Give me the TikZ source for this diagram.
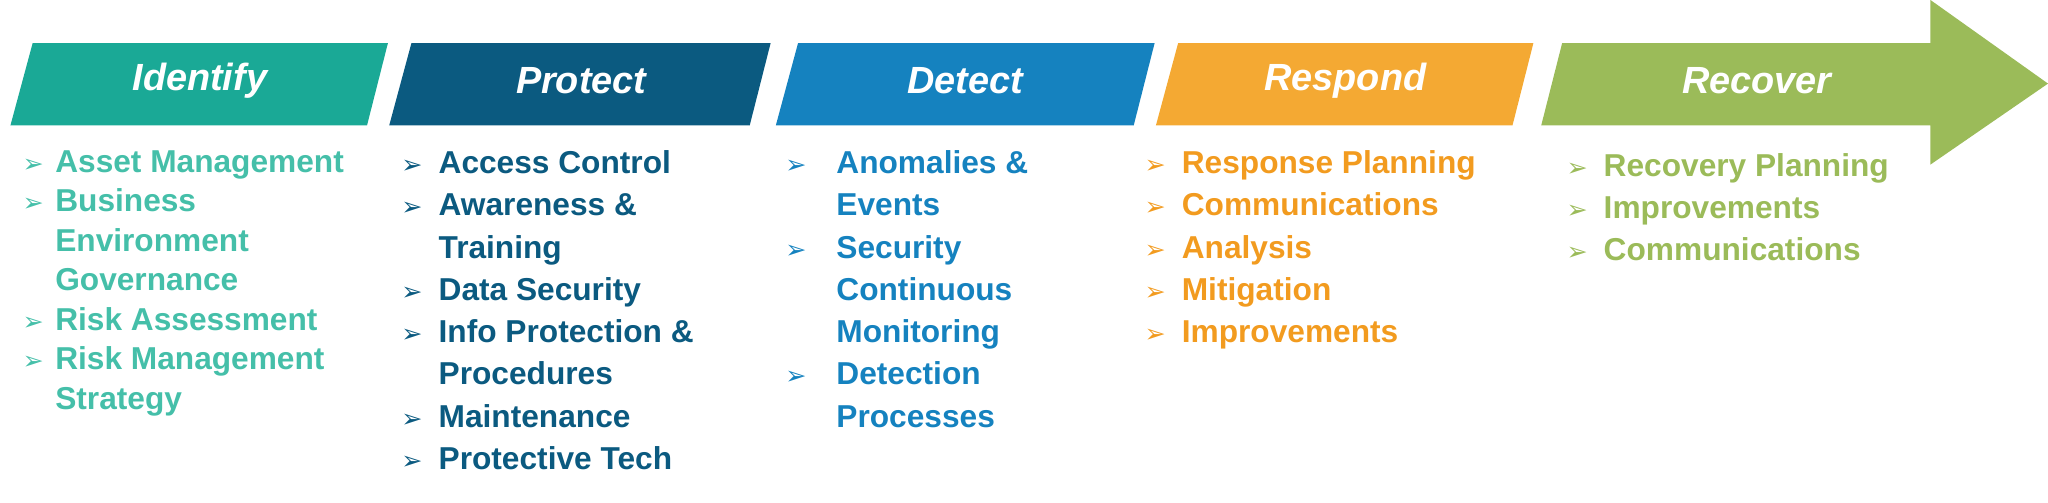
\documentclass[tikz,border=0pt]{standalone}
\usepackage{fontspec}
\setmainfont{Liberation Sans}
\newfontfamily\dv{DejaVu Sans}
\definecolor{cid}{HTML}{1AA996}\definecolor{tid}{HTML}{45BFA9}
\definecolor{cpr}{HTML}{0B5A80}
\definecolor{cde}{HTML}{1582BF}
\definecolor{cre}{HTML}{F4A933}\definecolor{tre}{HTML}{F29B1F}
\definecolor{crc}{HTML}{9BBB59}
\newcommand\bul{{\dv\fontsize{11}{11}\selectfont ➢}}
\begin{document}
\begin{tikzpicture}[x=0.02cm,y=-0.02cm,
  hd/.style={font=\fontsize{16.5}{18}\selectfont\bfseries\itshape,text=white},
  lst/.style={anchor=base west,inner sep=0pt,font=\fontsize{13.8}{18.4}\selectfont\bfseries}]
\useasboundingbox (0,0) rectangle (1568,385);
\fill[cid] (25,33)--(297,33)--(281,96)--(8,96)--cycle;
\fill[cpr] (315,33)--(590,33)--(574,96)--(298,96)--cycle;
\fill[cde] (611,33)--(884,33)--(868,96)--(594,96)--cycle;
\fill[cre] (902,33)--(1174,33)--(1158,96)--(885,96)--cycle;
\fill[crc] (1196,33)--(1478,33)--(1478,0)--(1568,64)--(1478,126)--(1478,96)--(1180,96)--cycle;
\node[hd] (h1) at (153,62) {Identify};
\node[hd] (h2) at (445,62) {Protect};
\node[hd] (h3) at (739,62) {Detect};
\node[hd] (h4) at (1030,62) {Respond};
\node[hd] (h5) at (1345,62) {Recover};
\node[lst,text=tid,font=\fontsize{13.8}{17.2}\selectfont\bfseries] (l1) at (17,132) {\begin{tabular}[t]{@{}l@{\hspace{5pt}}l@{}}
\bul & Asset Management\\ \bul & Business\\ & Environment\\ & Governance\\ \bul & Risk Assessment\\ \bul & Risk Management\\ & Strategy\end{tabular}};
\node[lst,text=cpr] (l2) at (307,133) {\begin{tabular}[t]{@{}l@{\hspace{7pt}}l@{}}
\bul & Access Control\\ \bul & Awareness \&\\ & Training\\ \bul & Data Security\\ \bul & Info Protection \&\\ & Procedures\\ \bul & Maintenance\\ \bul & Protective Tech\end{tabular}};
\node[lst,text=cde] (l3) at (601,133) {\begin{tabular}[t]{@{}l@{\hspace{13pt}}l@{}}
\bul & Anomalies \&\\ & Events\\ \bul & Security\\ & Continuous\\ & Monitoring\\ \bul & Detection\\ & Processes\end{tabular}};
\node[lst,text=tre] (l4) at (876,133) {\begin{tabular}[t]{@{}l@{\hspace{7pt}}l@{}}
\bul & Response Planning\\ \bul & Communications\\ \bul & Analysis\\ \bul & Mitigation\\ \bul & Improvements\end{tabular}};
\node[lst,text=crc] (l5) at (1199,135) {\begin{tabular}[t]{@{}l@{\hspace{7pt}}l@{}}
\bul & Recovery Planning\\ \bul & Improvements\\ \bul & Communications\end{tabular}};
\end{tikzpicture}
\end{document}
